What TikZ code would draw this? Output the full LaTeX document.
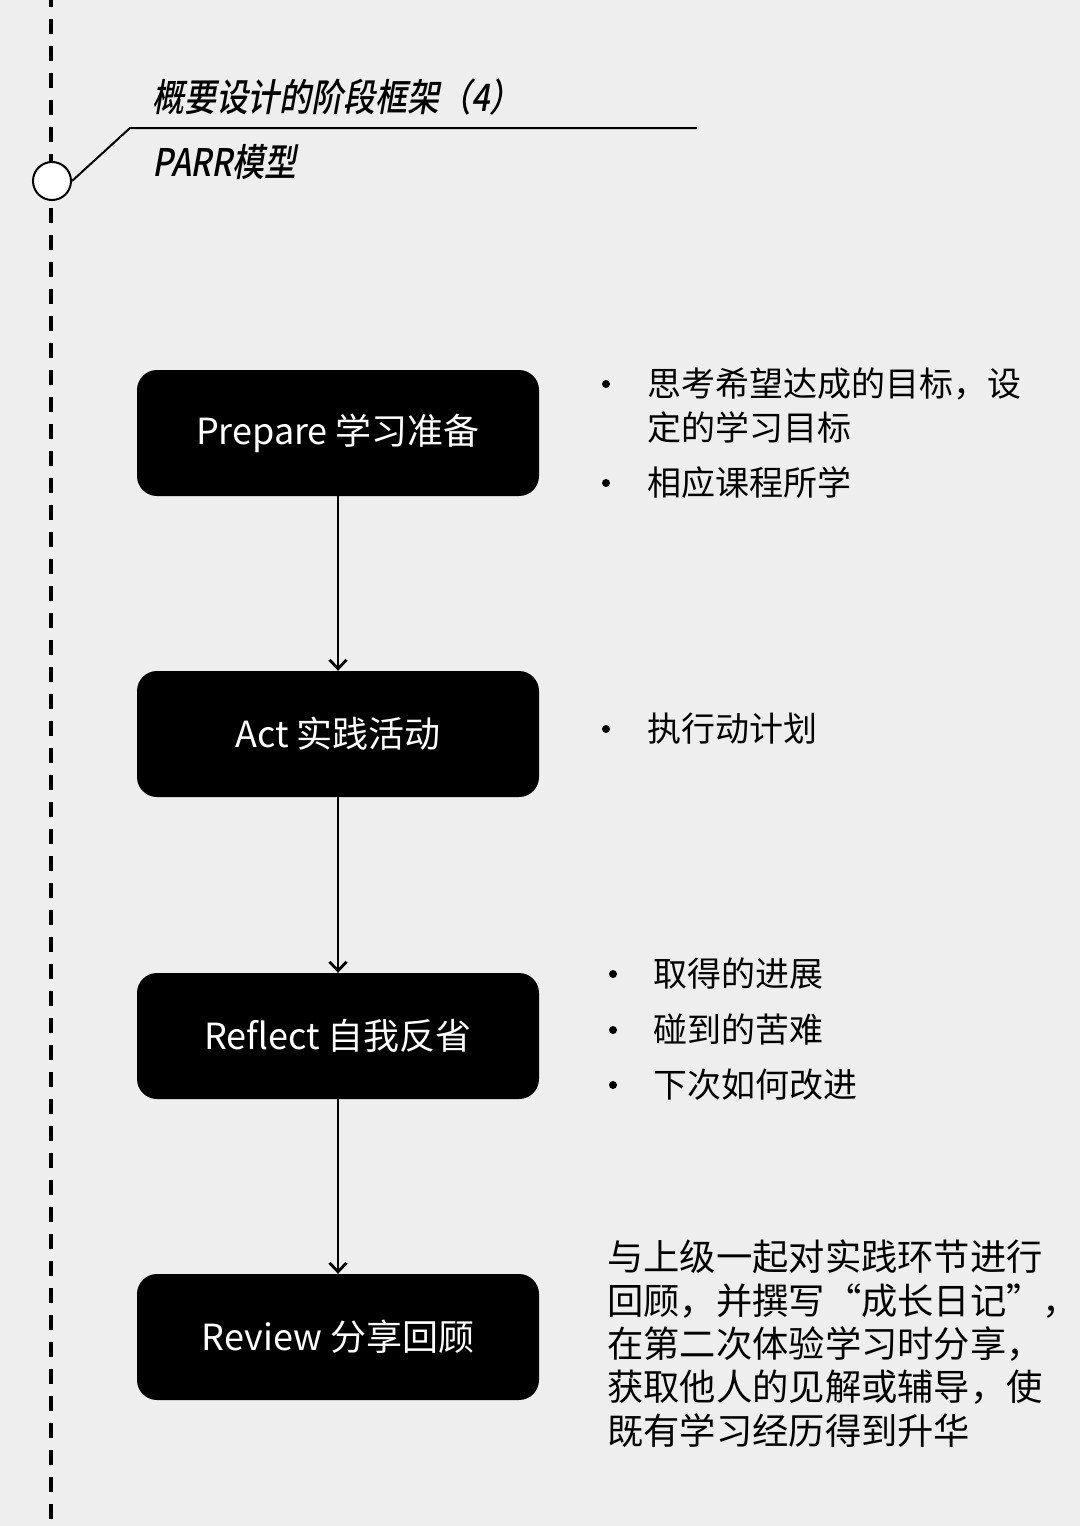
\documentclass[tikz,border=0pt]{standalone}
\usepackage{fontspec}
\usetikzlibrary{arrows.meta}
\newfontfamily\cjk{Noto Sans CJK SC}
\newfontfamily\cjktitle[FakeStretch=0.84,FakeSlant=0.18]{Noto Sans CJK SC Medium}
\definecolor{paper}{HTML}{EFEEEE}
\tikzset{
  stagebox/.style={fill=black, rounded corners=20pt, minimum width=402pt, minimum height=126pt,
    text=white, font=\cjk\fontsize{36}{42}\selectfont, inner sep=0pt},
  flow/.style={line width=2.8pt, -{Straight Barb[length=9pt,width=17pt,line width=2.8pt]}},
  bodytext/.style={font=\cjk\fontsize{34}{44}\selectfont, anchor=base west, inner sep=0pt, align=left},
  bulletdot/.style={circle, fill=black, minimum size=8pt, inner sep=0pt},
  titletext/.style={font=\cjktitle\fontsize{38}{44}\selectfont, anchor=base west, inner sep=0pt},
}
\begin{document}
\begin{tikzpicture}[x=1pt,y=-1pt]
\fill[paper] (0,0) rectangle (1080,1526);
\useasboundingbox (0,0) rectangle (1080,1526);
% timeline
\draw[line width=4pt, dash pattern=on 15pt off 12pt, dash phase=8pt] (51,0) -- (51,1526);
\coordinate (bend) at (130,128);
\coordinate (rulend) at (697,128);
\node[circle, draw=black, line width=2pt, fill=white, minimum size=38pt, inner sep=0pt] (dot) at (52,181) {};
\draw[line width=2pt] (dot.east) -- (bend) -- (rulend);
\node[titletext] (title) at (152,111) {概要设计的阶段框架（4）};
\node[titletext] (subtitle) at (152,176) {PARR模型};
% boxes
\node[stagebox] (p) at (338,433) {Prepare 学习准备};
\node[stagebox] (a) at (338,734) {Act 实践活动};
\node[stagebox] (r) at (338,1036) {Reflect 自我反省};
\node[stagebox] (v) at (338,1337) {Review 分享回顾};
\draw[flow] (p.south) -- (a.north);
\draw[flow] (a.south) -- (r.north);
\draw[flow] (r.south) -- (v.north);
% right texts (anchor = baseline of last line)
\node[bulletdot] (b11) at (606,384) {};
\node[bodytext] (t11) at (647,440) {思考希望达成的目标，设\\定的学习目标};
\node[bulletdot] (b12) at (606,483) {};
\node[bodytext] (t12) at (647,495) {相应课程所学};
\node[bulletdot] (b21) at (606,729) {};
\node[bodytext] (t21) at (647,741) {执行动计划};
\node[bulletdot] (b31) at (613,974) {};
\node[bodytext] (t31) at (653,986) {取得的进展};
\node[bulletdot] (b32) at (613,1030) {};
\node[bodytext] (t32) at (653,1042) {碰到的苦难};
\node[bulletdot] (b33) at (613,1085) {};
\node[bodytext] (t33) at (653,1097) {下次如何改进};
\node[bodytext, font=\cjk\fontsize{36.3}{43.3}\selectfont] (t41) at (607,1444)
  {与上级一起对实践环节进行\\回顾，并撰写“成长日记”，\\在第二次体验学习时分享，\\获取他人的见解或辅导，使\\既有学习经历得到升华};
\end{tikzpicture}
\end{document}
